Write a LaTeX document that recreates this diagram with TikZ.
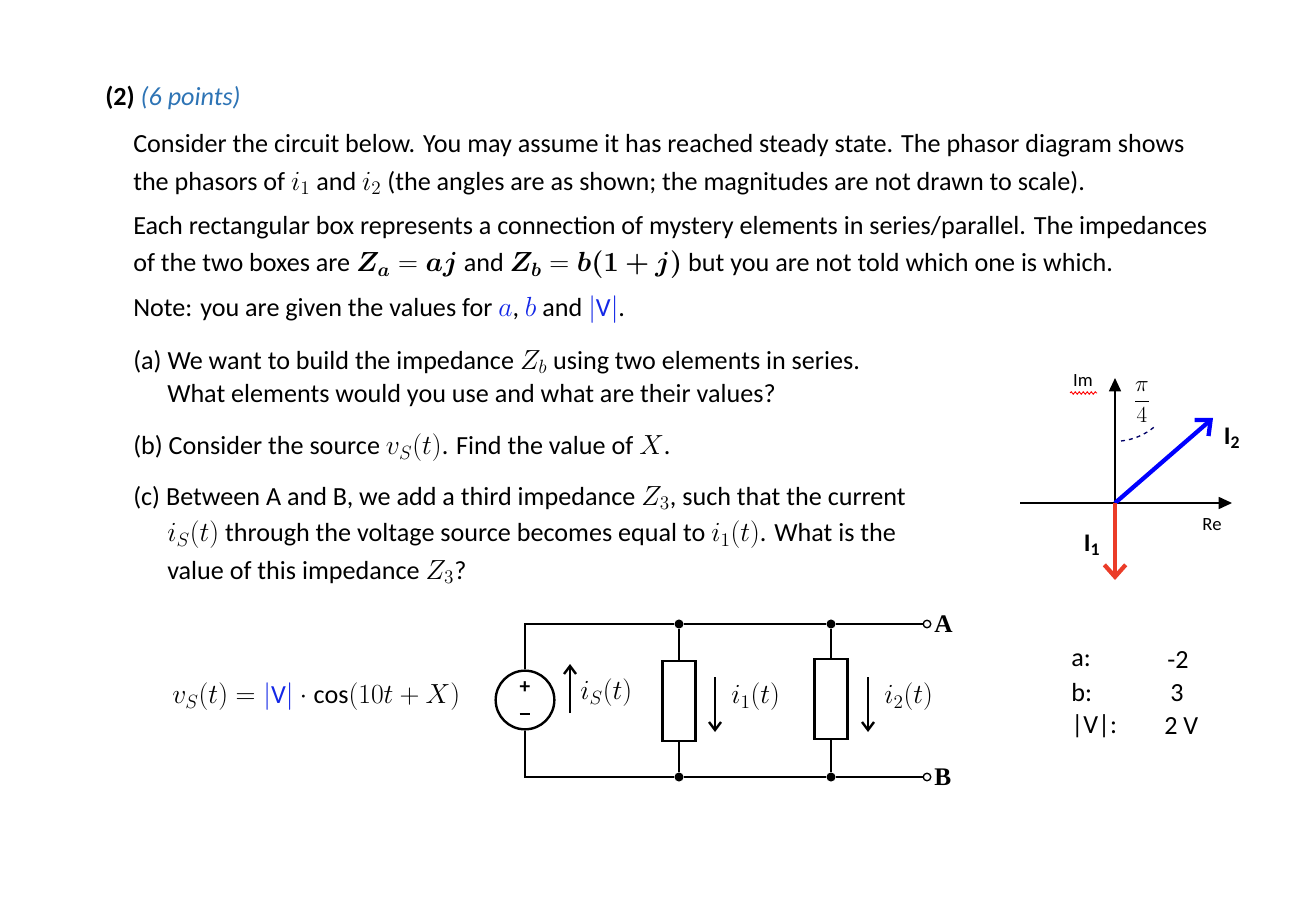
\documentclass[tikz,border=0pt]{standalone}
\usepackage{fontspec}
\setmainfont{Carlito}
\newfontfamily\serifb{Liberation Serif}
\usetikzlibrary{arrows.meta,decorations.pathmorphing}
\usepackage{amsmath,bm}
\definecolor{hblue}{RGB}{46,116,181}
\definecolor{mblue}{RGB}{20,40,230}
\definecolor{pred}{RGB}{235,60,40}
\begin{document}
\begin{tikzpicture}[x=0.75pt,y=-0.75pt,
  txt/.style={anchor=west,inner sep=0,font=\fontsize{19.6}{22}\selectfont},
  wire/.style={line width=1.8pt},
  dot/.style={circle,fill,inner sep=2.4pt},
  term/.style={circle,draw,line width=1pt,inner sep=2pt,fill=white},
  zbox/.style={draw,line width=1.8pt,minimum width=25pt,minimum height=60pt,inner sep=0},
  carr/.style={-{Straight Barb[length=6pt,width=9pt]},line width=1.8pt}]
\useasboundingbox (0,0) rectangle (1316,912);
\node[txt] (h) at (105,98) {\textbf{(2)} \textcolor{hblue}{\textit{(6 points)}}};
\node[txt] (l1) at (133,146) {Consider the circuit below. You may assume it has reached steady state. The phasor diagram shows};
\node[txt] (l2) at (133,183) {the phasors of $i_1$ and $i_2$ (the angles are as shown; the magnitudes are not drawn to scale).};
\node[txt] (l3) at (133,228) {Each rectangular box represents a connection of mystery elements in series/parallel. The impedances};
\node[txt] (l4) at (133,265) {of the two boxes are $\bm{Z_a}=\bm{aj}$ and $\bm{Z_b}=\bm{b(1+j)}$ but you are not told which one is which.};
\node[txt] (l5) at (133,310) {Note: you are given the values for $\textcolor{mblue}{a}$, $\textcolor{mblue}{b}$ and $\textcolor{mblue}{|\mathrm{V}|}$.};
\node[txt] (a1) at (133,362) {(a) We want to build the impedance $Z_b$ using two elements in series.};
\node[txt] (a2) at (167,396) {What elements would you use and what are their values?};
\node[txt] (b1) at (133,448) {(b) Consider the source $v_S(t)$. Find the value of $X$.};
\node[txt] (c1) at (133,498) {(c) Between A and B, we add a third impedance $Z_3$, such that the current};
\node[txt] (c2) at (167,535) {$i_S(t)$ through the voltage source becomes equal to $i_1(t)$. What is the};
\node[txt] (c3) at (167,572) {value of this impedance $Z_3$?};
% circuit
\node[txt] (vs) at (172,697) {$v_S(t)=\textcolor{mblue}{|\mathrm{V}|}\cdot\cos(10t+X)$};
\node[circle,draw,line width=1.8pt,minimum size=44pt,inner sep=0] (src) at (525,700) {};
\node[font=\bfseries\fontsize{16}{16}\selectfont] (pl) at (525,688) {+};
\node[font=\bfseries\fontsize{16}{16}\selectfont] (mi) at (525,714) {\rule{8pt}{1.6pt}};
\coordinate (tl) at (523,624); \coordinate (bl) at (523,777);
\node[dot] (t1) at (679,624) {}; \node[dot] (b1d) at (679,777) {};
\node[dot] (t2) at (831,624) {}; \node[dot] (b2d) at (831,777) {};
\node[term] (A) at (927,624) {}; \node[term] (B) at (927,777) {};
\node[zbox] (z1) at (679,701) {}; \node[zbox] (z2) at (831,699) {};
\draw[wire] (src.north) |- (t1) -- (t2) -- (A.west);
\draw[wire] (src.south) |- (b1d) -- (b2d) -- (B.west);
\draw[wire] (t1) -- (z1.north); \draw[wire] (z1.south) -- (b1d);
\draw[wire] (t2) -- (z2.north); \draw[wire] (z2.south) -- (b2d);
\node[anchor=west,inner sep=2pt,font=\serifb\bfseries\fontsize{19}{19}\selectfont] (Al) at (A.east) {A};
\node[anchor=west,inner sep=2pt,font=\serifb\bfseries\fontsize{19}{19}\selectfont] (Bl) at (B.east) {B};
\coordinate (s0) at (570,713); \coordinate (s1) at (570,664);
\draw[carr] (s0) -- (s1);
\node[txt] (isl) at (580,693) {$i_S(t)$};
\coordinate (p0) at (715,677); \coordinate (p1) at (715,732);
\draw[carr] (p0) -- (p1);
\node[txt] (i1l) at (731,697) {$i_1(t)$};
\coordinate (q0) at (868,677); \coordinate (q1) at (868,732);
\draw[carr] (q0) -- (q1);
\node[txt] (i2l) at (884,697) {$i_2(t)$};
% phasor
\coordinate (O) at (1115,503);
\coordinate (ImT) at (1115,378); \coordinate (ReL) at (1020,503); \coordinate (ReR) at (1232,503);
\draw[line width=1.2pt,-{Triangle[length=10pt,width=9pt]}] (O) -- (ImT);
\draw[line width=1.2pt,-{Triangle[length=10pt,width=9pt]}] (ReL) -- (ReR);
\coordinate (I2e) at (1213,418); \coordinate (I1e) at (1115,580);
\draw[blue,line width=3.2pt,-{Straight Barb[length=9pt,width=16pt]}] (O) -- (I2e);
\draw[pred,line width=3.2pt,-{Straight Barb[length=9pt,width=16pt]}] (O) -- (I1e);
\draw[dashed,color=blue!40!black,line width=1pt] (1121,441) arc[start angle=84,end angle=50,radius=62];
\node[font=\fontsize{18}{18}\selectfont] (pi) at (1142,402) {$\dfrac{\pi}{4}$};
\node[font=\fontsize{19}{19}\selectfont] (I2l) at (1232,438) {$\mathbf{I_2}$};
\node[font=\fontsize{19}{19}\selectfont] (I1l) at (1092,545) {$\mathbf{I_1}$};
\node[font=\fontsize{14}{14}\selectfont] (Im) at (1083,381) {Im};
\draw[red,line width=0.7pt,decorate,decoration={snake,amplitude=0.9pt,segment length=3pt}] (1070,393) -- (1097,393);
\node[font=\fontsize{14}{14}\selectfont] (Re) at (1212,525) {Re};
% table
\node[txt] (ta) at (1071,660) {a:}; \node[txt] (va) at (1167,660) {-2};
\node[txt] (tb) at (1071,693) {b:}; \node[txt] (vb) at (1170,693) {3};
\node[txt] (tv) at (1071,726) {|V|:}; \node[txt] (vv) at (1164,726) {2 V};
\end{tikzpicture}
\end{document}
